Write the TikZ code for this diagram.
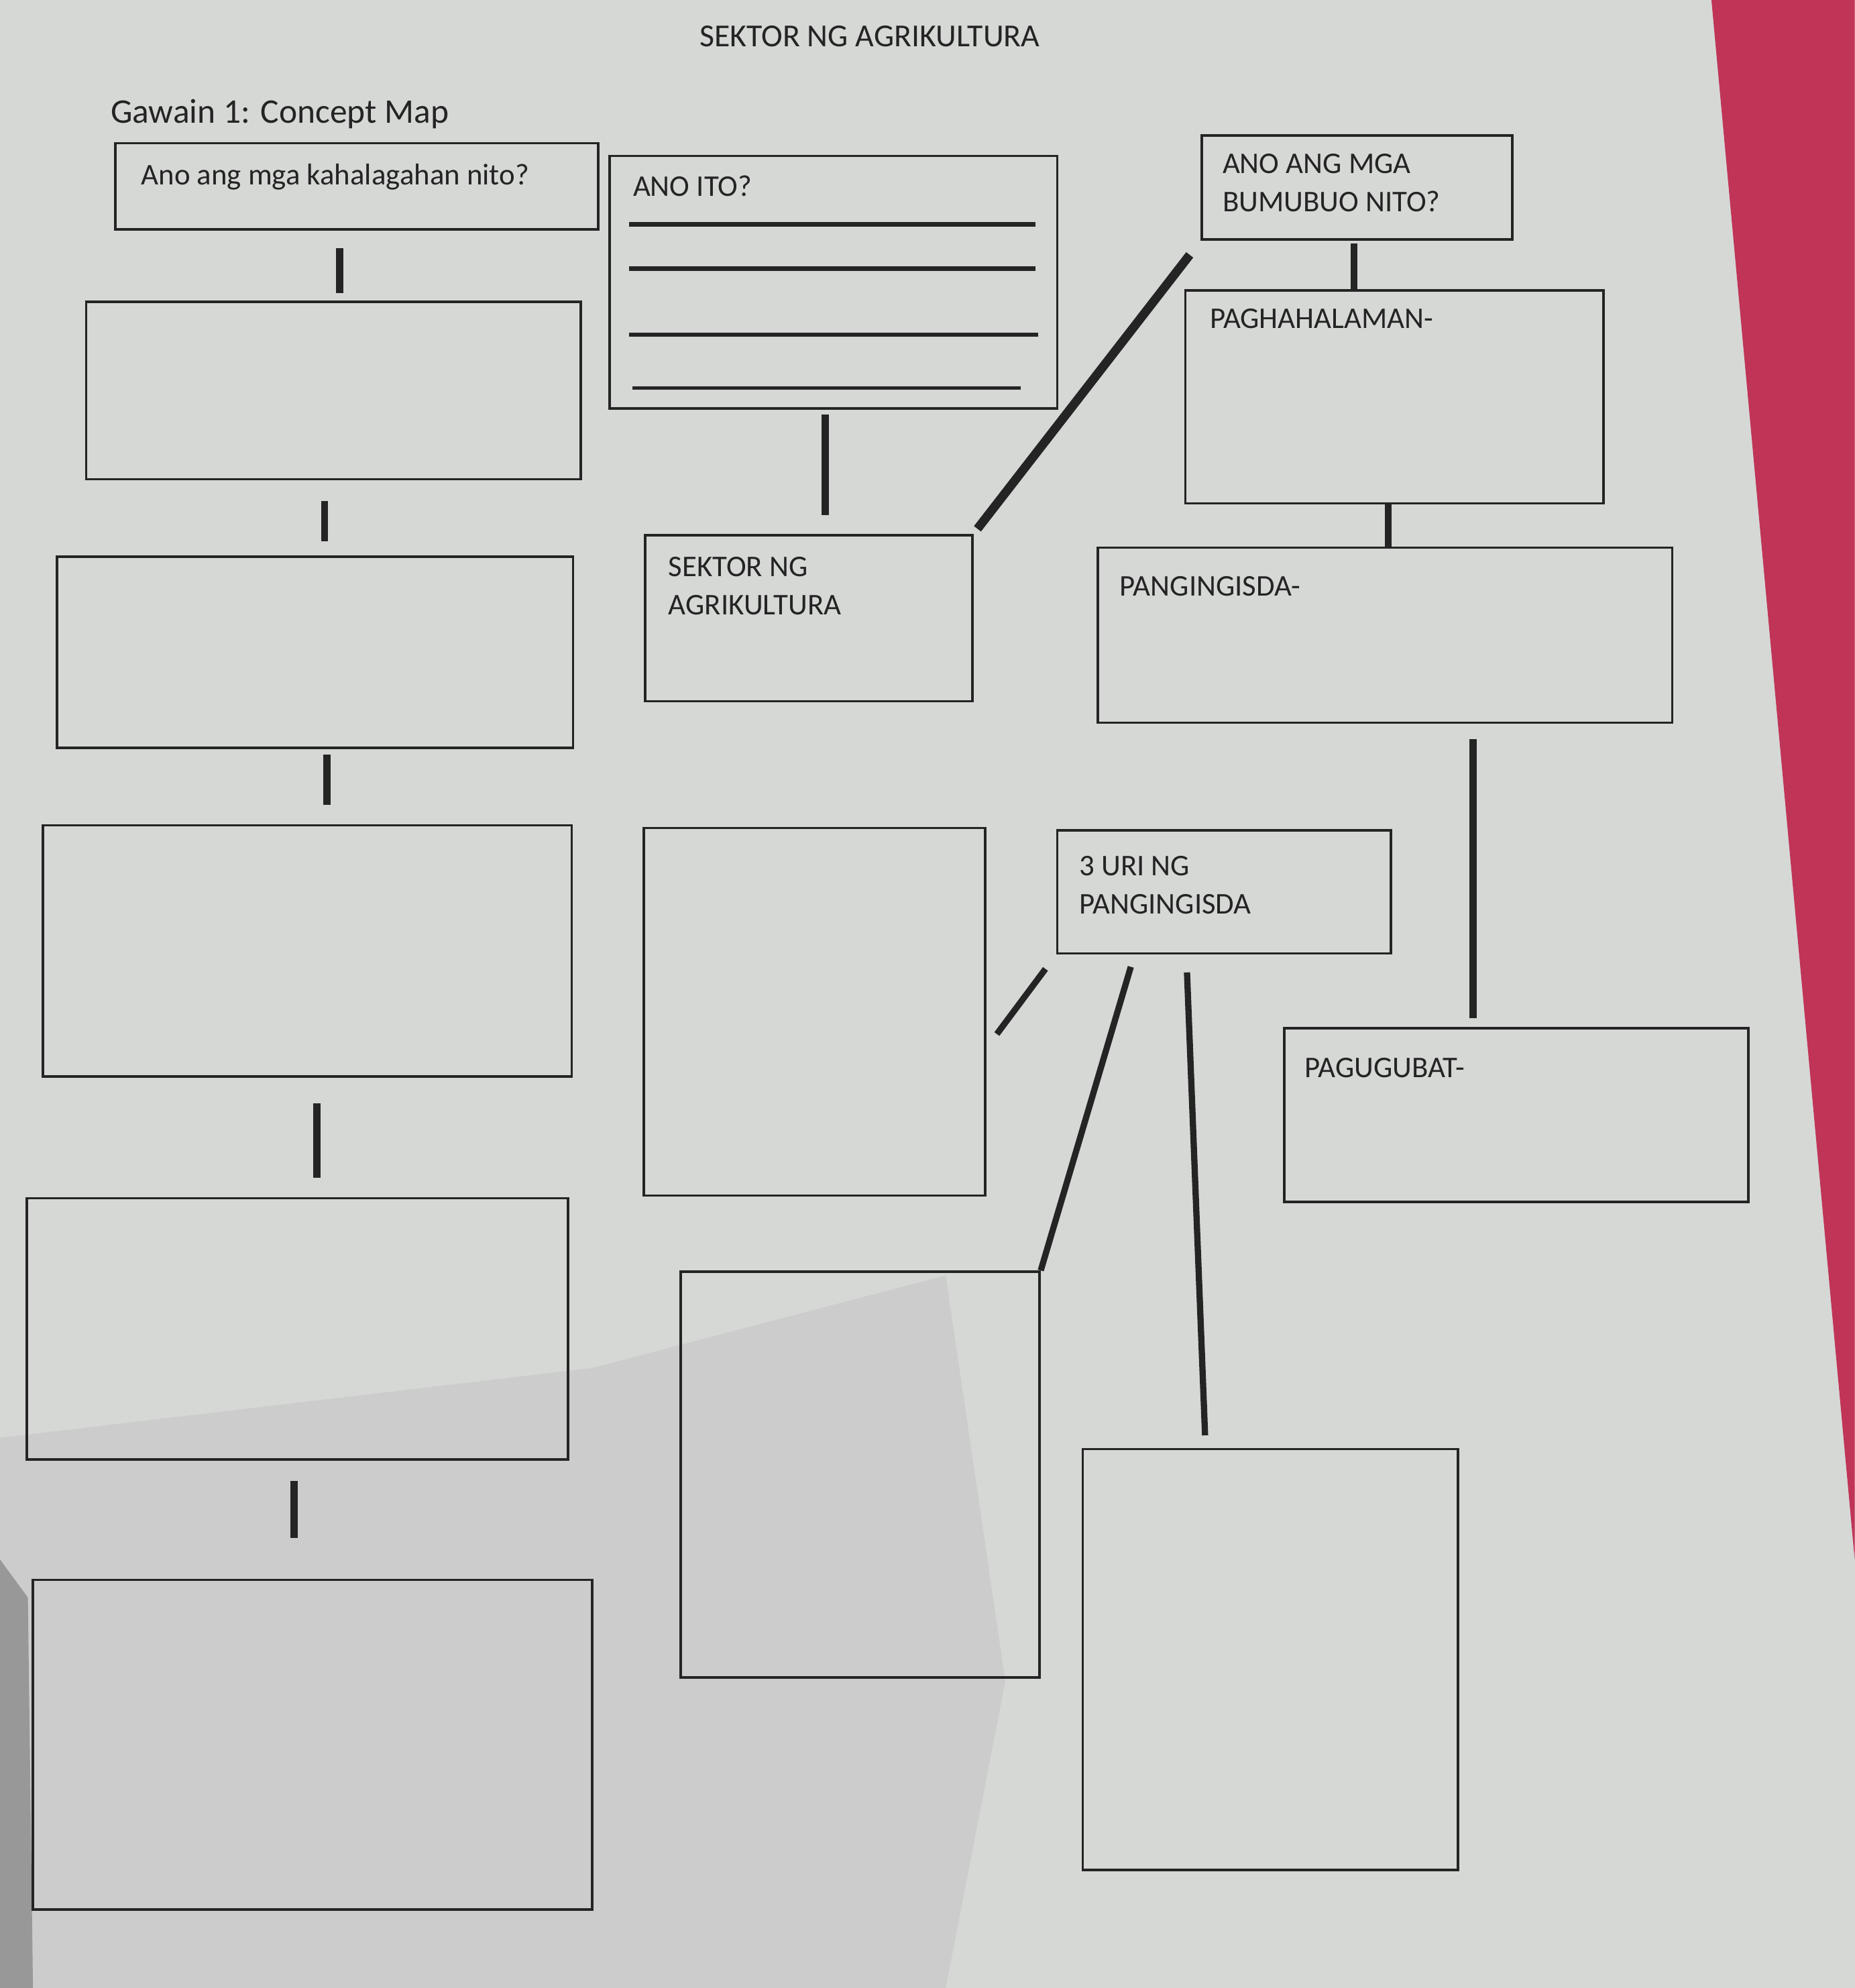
\documentclass[tikz,border=0pt]{standalone}
\usepackage{fontspec}
\setmainfont{Carlito}
\usetikzlibrary{fit}
\definecolor{paper}{RGB}{214,216,214}
\definecolor{wall}{RGB}{192,52,88}
\definecolor{ink}{RGB}{36,36,36}
\tikzset{
  box/.style   = {draw=ink, line width=1.1pt, rectangle, inner sep=0pt},
  link/.style  = {draw=ink, line width=3.2pt},
  rule/.style  = {draw=ink, line width=2pt},
  lbl/.style   = {anchor=north west, inner sep=0pt, text=ink, align=left, font=\fontsize{13.5}{17}\selectfont},
  title/.style = {anchor=base, inner sep=0pt, text=ink, font=\fontsize{14.4}{17}\selectfont},
  head/.style  = {anchor=base west, inner sep=0pt, text=ink, font=\fontsize{15.5}{18}\selectfont}
}
\begin{document}
\begin{tikzpicture}[x=0.02cm, y=-0.02cm]

% Paper, wall and shadow
\useasboundingbox (0,0) rectangle (1463,1568);
\fill[paper] (0,0) rectangle (1463,1568);
\fill[wall] (1350,0) -- (1463,0) -- (1463,1230) -- cycle;
\fill[black, opacity=0.05] (0,1134) -- (467,1079) -- (746,1006) -- (793,1326) -- (746,1568) -- (0,1568) -- cycle;
\fill[black, opacity=0.25] (0,1230) -- (22,1260) -- (26,1568) -- (0,1568) -- cycle;

% Headings
\node[title] (title) at (686,37) {SEKTOR NG AGRIKULTURA};
\node[head] (gawain) at (87,97) {Gawain 1: Concept Map};

% Top row
\node[box, fit={(91,113) (472,181)}] (kah) {};
\node[lbl] (kah-t) at ([shift={(21,17)}]kah.north west) {Ano ang mga kahalagahan nito?};
\node[box, fit={(481,123) (834,322)}] (ano) {};
\node[lbl] (ano-t) at ([shift={(19,16)}]ano.north west) {ANO ITO?};
\node[box, fit={(948,107) (1193,189)}] (bum) {};
\node[lbl] (bum-t) at ([shift={(17,15)}]bum.north west) {ANO ANG MGA\\BUMUBUO NITO?};

% Answer lines
\foreach \dy/\len in {55/321, 90/321, 142/323}
  \draw[rule] ([shift={(16,\dy)}]ano.north west) -- ++(\len,0);
\draw[rule, line width=1.3pt] ([shift={(19,184)}]ano.north west) -- ++(306,0);

% Left column
\node[box, fit={(68,238) (458,378)}] (k1) {};
\node[box, fit={(45,439) (452,590)}] (k2) {};
\node[box, fit={(34,651) (451,849)}] (k3) {};
\node[box, fit={(21,945) (448,1151)}] (k4) {};
\node[box, fit={(26,1246) (467,1506)}] (k5) {};

% Centre
\node[box, fit={(509,422) (767,553)}] (sek) {};
\node[lbl] (sek-t) at ([shift={(19,18)}]sek.north west) {SEKTOR NG\\AGRIKULTURA};
\node[box, fit={(508,653) (777,943)}] (u1) {};
\node[box, fit={(537,1003) (820,1323)}] (u2) {};

% Right side
\node[box, fit={(935,229) (1265,397)}] (pag) {};
\node[lbl] (pag-t) at ([shift={(20,15)}]pag.north west) {PAGHAHALAMAN-};
\node[box, fit={(866,432) (1319,570)}] (pang) {};
\node[lbl] (pang-t) at ([shift={(18,23)}]pang.north west) {PANGINGISDA-};
\node[box, fit={(834,655) (1097,752)}] (uri) {};
\node[lbl] (uri-t) at ([shift={(18,21)}]uri.north west) {3 URI NG\\PANGINGISDA};
\node[box, fit={(1013,811) (1379,948)}] (gub) {};
\node[lbl] (gub-t) at ([shift={(17,24)}]gub.north west) {PAGUGUBAT-};
\node[box, fit={(854,1143) (1150,1475)}] (u3) {};

% Connections
\draw[link, shorten <=0.28cm, shorten >=0.12cm] (kah.south -| 268,0) -- (k1.north -| 268,0);
\draw[link, shorten <=0.32cm, shorten >=0.22cm] (k1.south -| 256,0) -- (k2.north -| 256,0);
\draw[link, shorten <=0.08cm, shorten >=0.3cm] (k2.south -| 258,0) -- (k3.north -| 258,0);
\draw[link, shorten <=0.4cm, shorten >=0.3cm] (k3.south -| 250,0) -- (k4.north -| 250,0);
\draw[link, shorten <=0.32cm, shorten >=0.64cm] (k4.south -| 232,0) -- (k5.north -| 232,0);

\draw[link, shorten <=0.08cm, shorten >=0.3cm] (ano.south -| 651,0) -- (sek.north -| 651,0);
\draw[link, line width=4pt, shorten <=0.1cm, shorten >=0.28cm] (sek.north east) -- (bum.south west);
\draw[link, shorten <=0.04cm] (bum.south -| 1068,0) -- (pag.north -| 1068,0);
\draw[link] (pag.south -| 1095,0) -- (pang.north -| 1095,0);
\draw[link, shorten <=0.24cm, shorten >=0.14cm] (pang.south -| 1162,0) -- (gub.north -| 1162,0);

\draw[link, line width=2.8pt, shorten <=0.28cm, shorten >=0.28cm] (uri.south west) -- (u1.-12);
\draw[link, line width=2.8pt, shorten <=0.2cm] (uri.-145) -- (u2.north east);
\draw[link, line width=2.8pt, shorten <=0.28cm, shorten >=0.2cm] (uri.-121) -- (u3.107);

\end{tikzpicture}
\end{document}
